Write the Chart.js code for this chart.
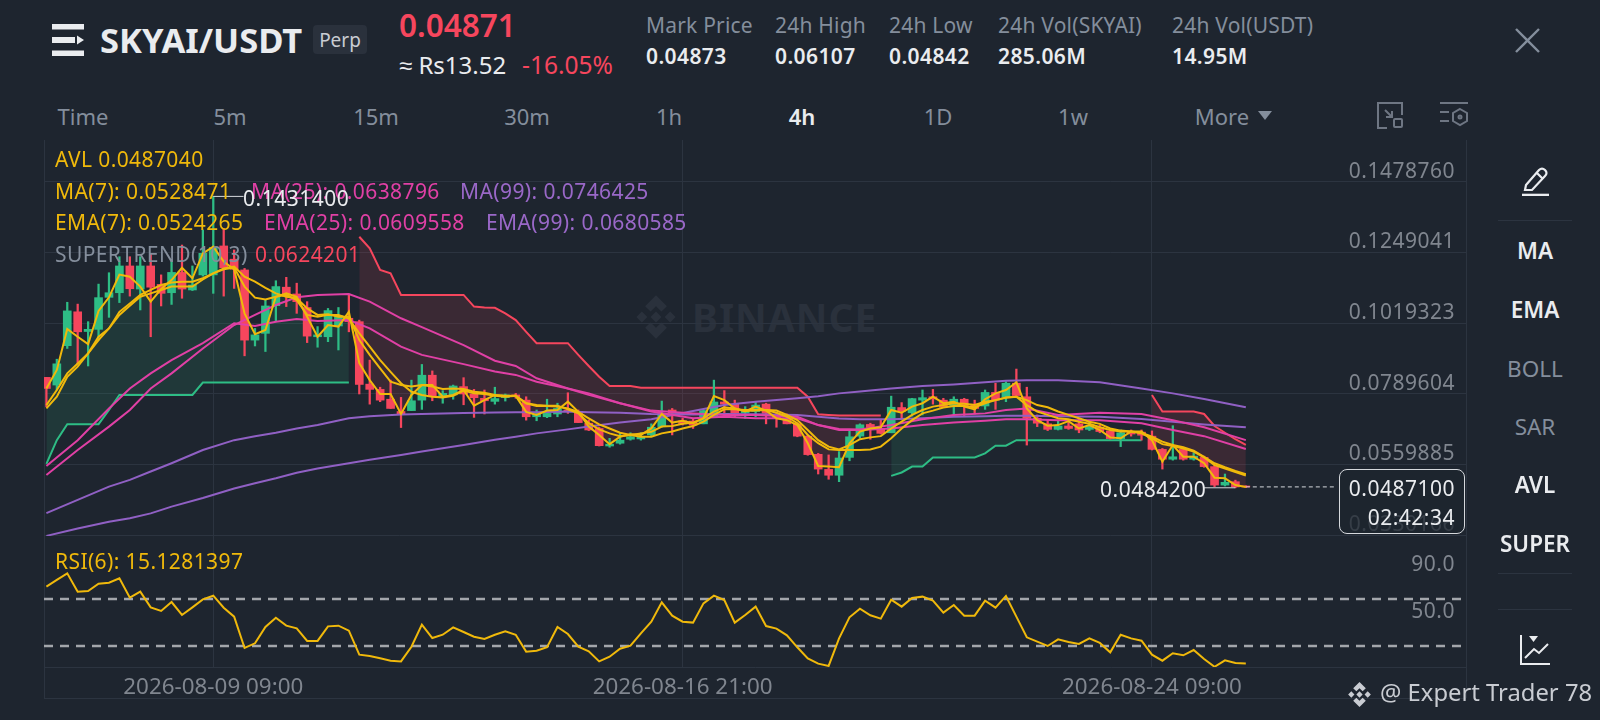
<!DOCTYPE html>
<html lang="en">
<head>
<meta charset="UTF-8">
<title>SKYAI/USDT Perp 4h</title>
<script src="https://cdn.jsdelivr.net/npm/chart.js"></script>
<style>
    html, body { margin: 0; padding: 0; width: 1600px; height: 720px; overflow: hidden; background: #1e252f; font-family: "Noto Sans", sans-serif; }
    .l, .c, .r { position: absolute; white-space: nowrap; line-height: 1; z-index: 5; }
    .l { transform: translateY(-50%); }
    .c { transform: translate(-50%, -50%); }
    .r { transform: translate(-100%, -50%); }
    .grey { color: #848e9c; }
    .white { color: #eaecef; }
    .red { color: #f6465d; }
    .stat { font-size: 21px; letter-spacing: .2px; }
    .val { font-size: 21px; font-weight: 600; color: #eaecef; letter-spacing: .4px; }
    .tab { font-size: 22px; color: #848e9c; }
    .side { font-size: 22.500px; font-weight: 600; color: #eaecef; }
    .off { font-weight: 400; color: #848e9c; }
    .leg { font-size: 21px; letter-spacing: .4px; }
    .yel { color: #f0b90b; }
    .pink { color: #e040a5; }
    .pur { color: #9a68c8; }
    .tag { font-size: 21px; color: #eaecef; letter-spacing: .5px; }
    .line { position: absolute; background: #2c3440; }
    canvas { position: absolute; z-index: 2; }
    #wm { position: absolute; left: 692px; top: 316px; transform: translateY(-50%); font-size: 39px; font-weight: 700; color: #2a313c; letter-spacing: 1px; line-height: 1; z-index: 1; }
    #box { position: absolute; left: 1339px; top: 469px; width: 124px; height: 63px; border: 1px solid #d5d8dc; border-radius: 8px; background: rgba(30,37,47,.75); z-index: 4; }
</style>
</head>
<body>
    <svg style="position:absolute;left:52px;top:24px" width="32" height="32" viewBox="0 0 32 32">
        <path fill="#eaecef" d="M0 0h32v5.500H0zM0 26.500h32V32H0zM0 13h23v6H0zM25 11.500l7 4.500-7 4.500z"/>
    </svg>
    <div class="l white" style="left:100px;top:40px;font-size:34.500px;font-weight:700">SKYAI/USDT</div>
    <div style="position:absolute;left:313px;top:25px;width:54px;height:29px;background:#2a313c;border-radius:4px"></div>
    <div class="c" style="left:340px;top:40px;font-size:19px;color:#c9ccd2">Perp</div>
    <div class="l red" style="left:399px;top:25px;font-size:31.500px;font-weight:600">0.04871</div>
    <div class="l white" style="left:399px;top:65px;font-size:24px">≈ Rs13.52</div>
    <div class="l red" style="left:522px;top:65px;font-size:24.500px">-16.05%</div>

    <div class="l grey stat" style="left:646px;top:25px">Mark Price</div>
    <div class="l val" style="left:646px;top:56px">0.04873</div>
    <div class="l grey stat" style="left:775px;top:25px">24h High</div>
    <div class="l val" style="left:775px;top:56px">0.06107</div>
    <div class="l grey stat" style="left:889px;top:25px">24h Low</div>
    <div class="l val" style="left:889px;top:56px">0.04842</div>
    <div class="l grey stat" style="left:998px;top:25px">24h Vol(SKYAI)</div>
    <div class="l val" style="left:998px;top:56px">285.06M</div>
    <div class="l grey stat" style="left:1172px;top:25px">24h Vol(USDT)</div>
    <div class="l val" style="left:1172px;top:56px">14.95M</div>

    <svg style="position:absolute;left:1514px;top:27px" width="27" height="27" viewBox="0 0 27 27">
        <path stroke="#848e9c" stroke-width="2.400" d="M2 2l23 23M25 2L2 25"/>
    </svg>

    <div class="c tab" style="left:83px;top:116px">Time</div>
    <div class="c tab" style="left:230px;top:116px">5m</div>
    <div class="c tab" style="left:376px;top:116px">15m</div>
    <div class="c tab" style="left:527px;top:116px">30m</div>
    <div class="c tab" style="left:669px;top:116px">1h</div>
    <div class="c tab" style="left:802px;top:116px;color:#eaecef;font-weight:600">4h</div>
    <div class="c tab" style="left:938px;top:116px">1D</div>
    <div class="c tab" style="left:1073px;top:116px">1w</div>
    <div class="c tab" style="left:1222px;top:116px">More</div>
    <svg style="position:absolute;left:1258px;top:111px" width="14" height="9" viewBox="0 0 14 9"><path fill="#848e9c" d="M0 0h14L7 9z"/></svg>

    <svg style="position:absolute;left:1376px;top:101px" width="28" height="28" viewBox="0 0 28 28" fill="none" stroke="#6e7683" stroke-width="2">
        <path d="M11 27H2V2h24v12M9 9l7 7M16 10v6h-6"/><rect x="18" y="18" width="8" height="8" rx="1"/>
    </svg>
    <svg style="position:absolute;left:1440px;top:102px" width="28" height="26" viewBox="0 0 28 26" fill="none" stroke="#6e7683" stroke-width="2">
        <path d="M0 1h28M0 10h9M0 19h9"/><path d="M20 7l7 4v8l-7 4-7-4v-8z"/><circle cx="20" cy="15" r="1.500"/>
    </svg>

    <!-- panel frame -->
    <div class="line" style="left:44px;top:140px;width:1px;height:558px"></div>
    <div class="line" style="left:1466px;top:140px;width:1px;height:558px"></div>
    <div class="line" style="left:44px;top:698px;width:1422px;height:1px"></div>

    <svg style="position:absolute;left:631px;top:292px;z-index:1" width="50" height="50" viewBox="0 0 46 46">
        <path fill="#2a313c" d="M23 3l10 10-5 5-5-5-5 5-5-5zM5 23l5-5 5 5-5 5zM31 23l5-5 5 5-5 5zM18 23l5-5 5 5-5 5zM13 33l5-5 5 5 5-5 5 5-10 10z"/>
    </svg>
    <div id="wm">BINANCE</div>

    <canvas id="mainChart" width="1422" height="396" style="left:44px;top:140px"></canvas>
    <canvas id="rsiChart" width="1422" height="162" style="left:44px;top:536px"></canvas>

    <div class="l leg yel" style="left:55px;top:159px">AVL 0.0487040</div>
    <div class="l leg yel" style="left:55px;top:191px">MA(7): 0.0528471</div>
    <div class="l leg pink" style="left:251px;top:191px">MA(25): 0.0638796</div>
    <div class="l leg pur" style="left:460px;top:191px">MA(99): 0.0746425</div>
    <div class="l leg yel" style="left:55px;top:222px">EMA(7): 0.0524265</div>
    <div class="l leg pink" style="left:264px;top:222px">EMA(25): 0.0609558</div>
    <div class="l leg pur" style="left:486px;top:222px">EMA(99): 0.0680585</div>
    <div class="l leg grey" style="left:55px;top:254px">SUPERTREND(10,3)</div>
    <div class="l leg red" style="left:255px;top:254px">0.0624201</div>
    <div class="l leg yel" style="left:55px;top:561px">RSI(6): 15.1281397</div>

    <div class="l tag" style="left:243px;top:198px">0.1431400</div>
    <div class="l tag" style="left:1100px;top:489px">0.0484200</div>

    <div id="box"></div>
    <div class="r tag" style="left:1455px;top:488px">0.0487100</div>
    <div class="r tag" style="left:1455px;top:517px">02:42:34</div>

    <!-- right side menu -->
    <svg style="position:absolute;left:1520px;top:164px" width="30" height="32" viewBox="0 0 30 32" fill="none" stroke="#eaecef" stroke-width="2.200">
        <path d="M6 21L19 6c2-2 4-2 6 0s2 4 0 6L12 26l-7 0z"/><path d="M17 9l6 6"/><path d="M2 31h27" stroke-width="2.600"/>
    </svg>
    <div class="line" style="left:1498px;top:220px;width:74px;height:1px"></div>
    <div class="c side" style="left:1535px;top:251px">MA</div>
    <div class="c side" style="left:1535px;top:310px">EMA</div>
    <div class="c side off" style="left:1535px;top:369px">BOLL</div>
    <div class="c side off" style="left:1535px;top:427px">SAR</div>
    <div class="c side" style="left:1535px;top:485px">AVL</div>
    <div class="c side" style="left:1535px;top:544px">SUPER</div>
    <div class="line" style="left:1498px;top:573px;width:74px;height:1px"></div>
    <div class="line" style="left:1498px;top:609px;width:74px;height:1px"></div>
    <svg style="position:absolute;left:1519px;top:634px" width="32" height="32" viewBox="0 0 32 32" fill="none" stroke="#eaecef" stroke-width="2">
        <path d="M2 1v29h29"/><path d="M6 24l9-9 5 4 9-9"/><path fill="#eaecef" stroke="none" d="M10 2h9l-4.500 6z"/>
    </svg>

    <svg style="position:absolute;left:1345px;top:680px;z-index:6" width="29" height="29" viewBox="0 0 46 46">
        <path fill="#c9ccd2" d="M23 3l10 10-5 5-5-5-5 5-5-5zM5 23l5-5 5 5-5 5zM31 23l5-5 5 5-5 5zM18 23l5-5 5 5-5 5zM13 33l5-5 5 5 5-5 5 5-10 10z"/>
    </svg>
    <div class="l" style="left:1380px;top:693px;font-size:23.800px;color:#c9ccd2;z-index:6">@ Expert Trader 78</div>

    <script>
        // candles, one per 4h bar
        const open = [
            .0843,.0818,.0946,.1056,.0992,.0999,.1103,.1118,.1205,.1130,
            .1205,.1145,.1118,.1184,.1127,.1176,.1176,.1270,.1227,.1192,
            .0964,.0986,.1076,.1136,.1114,.1070,.0975,.0975,.1010,.1035,
            .1024,.0821,.0804,.0772,.0732,.0735,.0769,.0850,.0780,.0786,
            .0813,.0789,.0775,.0765,.0777,.0786,.0769,.0715,.0715,.0724,
            .0737,.0732,.0694,.0677,.0620,.0629,.0642,.0643,.0656,.0683,
            .0737,.0702,.0701,.0692,.0715,.0763,.0756,.0728,.0732,.0756,
            .0721,.0710,.0692,.0652,.0593,.0544,.0525,.0583,.0652,.0690,
            .0677,.0663,.0745,.0728,.0769,.0780,.0769,.0748,.0772,.0756,
            .0750,.0794,.0780,.0824,.0780,.0710,.0692,.0674,.0685,.0692,
            .0674,.0681,.0669,.0644,.0667,.0665,.0652,.0609,.0577,.0609,
            .0577,.0583,.0553,.0493,.0504,.0490];
        const close = [
            .0807,.0887,.1059,.0991,.0999,.1102,.1118,.1205,.1131,.1205,
            .1136,.1116,.1184,.1130,.1143,.1246,.1265,.1199,.1194,.0964,
            .0981,.1075,.1138,.1107,.1089,.0977,.0981,.1060,.1043,.1024,
            .0820,.0804,.0769,.0742,.0724,.0767,.0850,.0780,.0791,.0815,
            .0789,.0777,.0767,.0774,.0786,.0780,.0715,.0724,.0726,.0742,
            .0733,.0696,.0672,.0621,.0626,.0639,.0650,.0650,.0681,.0726,
            .0726,.0692,.0688,.0735,.0763,.0756,.0726,.0739,.0753,.0726,
            .0710,.0692,.0652,.0592,.0545,.0525,.0581,.0650,.0689,.0680,
            .0661,.0746,.0733,.0774,.0777,.0773,.0746,.0772,.0748,.0742,
            .0794,.0769,.0824,.0784,.0710,.0694,.0674,.0685,.0677,.0672,
            .0685,.0667,.0644,.0663,.0659,.0655,.0609,.0577,.0585,.0577,
            .0587,.0553,.0493,.0502,.0487,.04871];
        const high = [
            .0843,.0902,.1087,.1081,.1024,.1146,.1183,.1235,.1235,.1235,
            .1246,.1176,.1224,.1273,.1205,.1322,.1431,.1327,.1257,.1197,
            .1002,.1094,.1157,.1168,.1149,.1089,.1008,.1067,.1070,.1111,
            .1029,.0899,.0811,.0834,.0778,.0834,.0885,.0864,.0800,.0818,
            .0842,.0804,.0802,.0811,.0789,.0791,.0780,.0737,.0772,.0759,
            .0793,.0737,.0704,.0681,.0645,.0661,.0663,.0663,.0692,.0766,
            .0742,.0710,.0710,.0737,.0834,.0800,.0769,.0748,.0762,.0759,
            .0726,.0724,.0694,.0656,.0596,.0591,.0602,.0672,.0692,.0694,
            .0707,.0782,.0761,.0775,.0802,.0804,.0775,.0780,.0775,.0769,
            .0802,.0824,.0829,.0870,.0811,.0721,.0704,.0704,.0704,.0710,
            .0702,.0688,.0672,.0672,.0672,.0672,.0669,.0612,.0686,.0612,
            .0598,.0587,.0558,.0529,.0509,.0491];
        const low = [
            .0748,.0802,.0937,.0887,.0880,.0964,.1038,.1086,.1107,.1062,
            .0975,.1075,.1080,.1100,.1125,.1172,.1116,.1107,.1132,.0913,
            .0945,.0927,.1024,.1073,.1051,.0956,.0941,.0959,.0932,.0991,
            .0789,.0756,.0764,.0742,.0680,.0735,.0739,.0767,.0759,.0772,
            .0754,.0713,.0724,.0756,.0766,.0775,.0704,.0702,.0712,.0715,
            .0726,.0696,.0670,.0620,.0616,.0626,.0639,.0639,.0650,.0681,
            .0656,.0688,.0677,.0692,.0715,.0715,.0715,.0710,.0715,.0692,
            .0681,.0692,.0650,.0590,.0529,.0512,.0504,.0572,.0645,.0642,
            .0659,.0663,.0707,.0717,.0721,.0756,.0746,.0721,.0719,.0724,
            .0739,.0739,.0764,.0784,.0623,.0683,.0670,.0672,.0674,.0663,
            .0670,.0663,.0642,.0618,.0652,.0639,.0607,.0545,.0574,.0574,
            .0574,.0551,.0488,.0490,.04842,.0485];

        const avl = [
            .0807,.0867,.1000,.0975,.0951,.1059,.1103,.1177,.1170,.1138,
            .1089,.1130,.1159,.1199,.1165,.1246,.1268,.1219,.1194,.1051,
            .0983,.0997,.1105,.1116,.1105,.1040,.0975,.1013,.1008,.1056,
            .0889,.0834,.0789,.0789,.0724,.0786,.0818,.0818,.0780,.0786,
            .0802,.0751,.0769,.0786,.0782,.0783,.0731,.0721,.0735,.0737,
            .0764,.0731,.0683,.0656,.0626,.0650,.0658,.0656,.0677,.0724,
            .0696,.0702,.0694,.0710,.0782,.0769,.0742,.0732,.0748,.0735,
            .0710,.0704,.0688,.0629,.0555,.0553,.0551,.0629,.0667,.0677,
            .0681,.0737,.0728,.0748,.0759,.0780,.0759,.0764,.0748,.0739,
            .0772,.0791,.0802,.0827,.0742,.0704,.0686,.0688,.0701,.0677,
            .0688,.0672,.0648,.0645,.0667,.0667,.0639,.0569,.0623,.0585,
            .0585,.0564,.0517,.0515,.0493,.0487];
        const ma7 = [
            .0753,.0802,.0856,.0888,.0921,.0975,.1002,.1056,.1083,.1111,
            .1127,.1143,.1151,.1154,.1154,.1165,.1181,.1197,.1203,.1170,
            .1154,.1134,.1116,.1105,.1100,.1067,.1046,.1048,.1040,.1040,
            .0964,.0916,.0872,.0829,.0818,.0813,.0818,.0813,.0805,.0807,
            .0805,.0796,.0793,.0786,.0783,.0783,.0759,.0750,.0750,.0748,
            .0742,.0731,.0710,.0690,.0677,.0663,.0656,.0661,.0666,.0683,
            .0685,.0692,.0696,.0710,.0732,.0746,.0742,.0734,.0735,.0737,
            .0735,.0721,.0704,.0672,.0639,.0618,.0609,.0623,.0642,.0648,
            .0652,.0677,.0699,.0721,.0737,.0748,.0753,.0759,.0757,.0753,
            .0764,.0769,.0778,.0780,.0769,.0753,.0746,.0732,.0721,.0710,
            .0699,.0692,.0677,.0670,.0667,.0663,.0650,.0634,.0623,.0616,
            .0605,.0585,.0564,.0551,.0539,.0528];
        const ema7 = [
            .0742,.0780,.0845,.0878,.0921,.0964,.1002,.1046,.1076,.1105,
            .1116,.1127,.1138,.1138,.1138,.1161,.1181,.1194,.1200,.1138,
            .1102,.1096,.1105,.1111,.1094,.1046,.1040,.1046,.1046,.1034,
            .0986,.0943,.0899,.0861,.0824,.0796,.0786,.0780,.0778,.0783,
            .0800,.0791,.0789,.0783,.0780,.0783,.0759,.0753,.0751,.0751,
            .0739,.0726,.0694,.0674,.0661,.0652,.0656,.0650,.0650,.0661,
            .0667,.0677,.0685,.0699,.0721,.0739,.0739,.0737,.0737,.0737,
            .0728,.0715,.0694,.0656,.0629,.0609,.0607,.0607,.0607,.0609,
            .0618,.0645,.0677,.0704,.0726,.0735,.0745,.0750,.0750,.0746,
            .0759,.0769,.0777,.0780,.0753,.0732,.0721,.0710,.0707,.0699,
            .0692,.0681,.0672,.0667,.0667,.0661,.0645,.0626,.0620,.0612,
            .0602,.0583,.0558,.0547,.0535,.0524];

        // slower averages, read at these bars only
        const slowIdx = [0,3,6,8,10,12,15,18,20,22,24,26,29,31,34,36,40,43,45,47,50,52,55,58,62,65,68,72,74,76,78,81,84,87,90,92,94,97,101,105,108,111,115];
        const ma25 = [.0526,.0607,.0683,.0737,.0807,.0856,.0937,.1013,.1046,.1078,.1103,.1111,.1114,.1089,.1035,.1006,.0948,.0897,.0880,.0840,.0807,.0791,.0759,.0735,.0726,.0721,.0721,.0715,.0688,.0675,.0674,.0688,.0707,.0721,.0726,.0737,.0742,.0721,.0728,.0724,.0704,.0681,.0639];
        const ema25 = [.0555,.0639,.0742,.0807,.0856,.0899,.0954,.1019,.1010,.1024,.1033,.1026,.1029,.1002,.0943,.0916,.0886,.0862,.0851,.0829,.0807,.0786,.0759,.0732,.0710,.0715,.0710,.0710,.0688,.0672,.0672,.0677,.0688,.0696,.0702,.0707,.0707,.0704,.0704,.0694,.0672,.0652,.0610];
        const ma99 = [.0328,.0352,.0374,.0385,.0401,.0423,.0451,.0482,.0499,.0515,.0533,.0547,.0564,.0575,.0591,.0602,.0623,.0640,.0650,.0661,.0674,.0683,.0696,.0707,.0734,.0753,.0764,.0775,.0782,.0791,.0797,.0807,.0815,.0820,.0827,.0832,.0834,.0834,.0827,.0807,.0791,.0773,.0746];
        const ema99 = [.0402,.0445,.0488,.0510,.0537,.0564,.0607,.0639,.0652,.0663,.0677,.0688,.0710,.0717,.0722,.0724,.0727,.0729,.0730,.0730,.0732,.0730,.0728,.0724,.0722,.0724,.0723,.0721,.0715,.0709,.0707,.0707,.0710,.0715,.0717,.0718,.0718,.0717,.0715,.0708,.0699,.0690,.0681];

        const superUp = [
            .0562,.0639,.0691,.0691,.0691,.0691,.0737,.0786,.0786,.0786,
            .0786,.0786,.0786,.0786,.0786,.0826,.0826,.0826,.0826,.0826,
            .0826,.0826,.0826,.0826,.0826,.0826,.0826,.0826,.0826,.0826,
            null,null,null,null,null,null,null,null,null,null,
            null,null,null,null,null,null,null,null,null,null,
            null,null,null,null,null,null,null,null,null,null,
            null,null,null,null,null,null,null,null,null,null,
            null,null,null,null,null,null,null,null,null,null,
            null,.0523,.0534,.0553,.0553,.0583,.0583,.0583,.0583,.0583,
            .0596,.0621,.0621,.0639,.0639,.0639,.0639,.0639,.0639,.0639,
            .0639,.0639,.0639,.0639,.0639,.0639,null,null,null,null,
            null,null,null,null,null,null];
        const superDown = [
            null,null,null,null,null,null,null,null,null,null,
            null,null,null,null,null,null,null,null,null,null,
            null,null,null,null,null,null,null,null,null,null,
            .1300,.1262,.1192,.1181,.1111,.1111,.1111,.1111,.1111,.1111,
            .1111,.1073,.1070,.1069,.1051,.1029,.0991,.0954,.0954,.0954,
            .0954,.0916,.0880,.0845,.0815,.0815,.0815,.0809,.0809,.0809,
            .0809,.0809,.0809,.0809,.0809,.0809,.0809,.0809,.0809,.0809,
            .0809,.0809,.0809,.0780,.0723,.0721,.0719,.0719,.0719,.0719,
            .0719,null,null,null,null,null,null,null,null,null,
            null,null,null,null,null,null,null,null,null,null,
            null,null,null,null,null,null,.0786,.0732,.0732,.0732,
            .0732,.0724,.0685,.0663,.0642,.0624];

        const rsi = [
            80.5,86.2,91.8,76.2,76.8,83.0,83.9,87.6,71.1,76.2,
            62.9,59.8,67.4,56.4,62.9,69.7,72.8,62.6,55.0,28.3,
            32.3,46.2,54.1,47.3,45.0,34.3,34.3,46.7,47.3,43.0,
            22.6,21.5,19.5,17.5,16.9,29.4,48.2,36.8,39.6,45.9,
            41.9,37.9,36.0,39.6,42.5,39.6,25.2,26.0,28.9,46.2,
            40.2,29.4,25.5,16.9,20.9,27.7,30.3,40.8,50.7,67.2,
            55.8,50.7,49.9,66.3,72.8,69.1,49.9,56.4,63.5,47.0,
            44.8,39.1,28.9,19.5,15.0,13.0,36.5,54.4,61.8,56.1,
            53.3,69.4,63.5,70.9,72.0,68.6,58.4,64.9,55.8,55.8,
            68.6,62.6,72.6,55.0,37.4,33.7,30.0,35.7,33.4,31.7,
            36.5,32.6,24.6,39.6,36.5,34.5,22.6,17.5,23.8,22.1,
            26.6,18.9,12.3,17.8,15.5,15.13];

        const xTickIdx = [16, 61, 106];
        const xTickLabels = ['2026-08-09 09:00', '2026-08-16 21:00', '2026-08-24 09:00'];
        const priceTicks = [0.1478760, 0.1249041, 0.1019323, 0.0789604, 0.0559885, 0.0330166];
        const priceTickLabels = ['0.1478760', '0.1249041', '0.1019323', '0.0789604', '0.0559885', '0.0330166'];
        const rsiTicks = [90, 50];
        const rsiTickLabels = ['90.0', '50.0'];
        const rsiBands = [70, 30];

        const GREEN = '#2ebd85', RED = '#f6465d', YELLOW = '#f0b90b', PINK = '#e040a5', PURPLE = '#9060c4', GRID = '#2c3440';
        const xMin = -0.23, xMax = 136.11;
        const lastX = 123.7;

        const pts = (arr) => arr.map((v, i) => ({ x: i, y: v }));
        const knots = (arr) => arr.map((v, i) => ({ x: slowIdx[i], y: v }));
        const candleColor = open.map((o, i) => close[i] >= o ? GREEN : RED);

        function lineSet(data, color, order, extra) {
            return Object.assign({ type: 'line', data: data, borderColor: color, borderWidth: 2, pointRadius: 0, tension: 0, fill: false, order: order }, extra);
        }

        // price labels sit a little above their grid line
        const tickText = {
            id: 'tickText',
            afterDatasetsDraw(chart, args, opts) {
                const ctx = chart.ctx, scale = chart.scales.y;
                ctx.save();
                ctx.font = '21px "Noto Sans"';
                ctx.letterSpacing = '.5px';
                ctx.fillStyle = '#80868f';
                ctx.textAlign = 'right';
                ctx.textBaseline = 'middle';
                opts.values.forEach((v, i) => {
                    ctx.fillText(opts.labels[i], chart.chartArea.right - 11, scale.getPixelForValue(v) - 10);
                });
                ctx.restore();
            }
        };

        function xAxis(showLabels) {
            return {
                type: 'linear', min: xMin, max: xMax, offset: false,
                afterBuildTicks: (axis) => { axis.ticks = xTickIdx.map(v => ({ value: v })); },
                grid: { color: GRID, drawTicks: false, offset: false },
                border: { display: showLabels, color: GRID },
                afterFit: (axis) => { axis.height = showLabels ? 31 : 0; },
                ticks: {
                    display: showLabels, autoSkip: false, maxRotation: 0, padding: 7, color: '#80868f',
                    font: { family: '"Noto Sans"', size: 22.4 },
                    callback: (v) => xTickLabels[xTickIdx.indexOf(v)]
                }
            };
        }

        new Chart(document.getElementById('mainChart').getContext('2d'), {
            type: 'bar',
            data: {
                datasets: [
                    { type: 'bar', data: pts(low.map((l, i) => [l, high[i]])), backgroundColor: candleColor, barThickness: 1.6, grouped: false, order: 60 },
                    { type: 'bar', data: pts(open.map((o, i) => [o, close[i]])), backgroundColor: candleColor, barThickness: 8, grouped: false, order: 50 },
                    lineSet(pts(avl), YELLOW, 5),
                    lineSet(pts(superUp), GREEN, 70, { fill: { target: 2 }, backgroundColor: 'rgba(46,189,133,.13)' }),
                    lineSet(pts(superDown), RED, 71, { fill: { target: 2 }, backgroundColor: 'rgba(246,70,93,.13)' }),
                    lineSet(knots(ema99), PURPLE, 20),
                    lineSet(knots(ma99), PURPLE, 21),
                    lineSet(knots(ema25), PINK, 15),
                    lineSet(knots(ma25), PINK, 16),
                    lineSet(pts(ema7), YELLOW, 6),
                    lineSet(pts(ma7), YELLOW, 7),
                    lineSet([{ x: 115, y: close[115] }, { x: lastX, y: close[115] }], '#d5d8dc', 1, { borderWidth: 1, borderDash: [4, 3] }),
                    lineSet([{ x: 16, y: high[16] }, { x: 18.9, y: high[16] }], '#d5d8dc', 1, { borderWidth: 1 }),
                    lineSet([{ x: 111, y: low[114] }, { x: 114, y: low[114] }], '#d5d8dc', 1, { borderWidth: 1 })
                ]
            },
            options: {
                responsive: false, animation: false, events: [],
                layout: { padding: 0 },
                plugins: { legend: { display: false }, tooltip: { enabled: false }, tickText: { values: priceTicks, labels: priceTickLabels } },
                scales: {
                    x: xAxis(false),
                    y: {
                        position: 'right', min: 0.032757, max: 0.161425,
                        afterBuildTicks: (axis) => { axis.ticks = priceTicks.map(v => ({ value: v })); },
                        afterFit: (axis) => { axis.width = 0; },
                        grid: { color: GRID, drawTicks: false }, border: { display: false },
                        ticks: { display: false }
                    }
                }
            },
            plugins: [tickText]
        });

        new Chart(document.getElementById('rsiChart').getContext('2d'), {
            type: 'line',
            data: {
                datasets: [
                    lineSet(pts(rsi), YELLOW, 1),
                    lineSet([{ x: xMin, y: rsiBands[0] }, { x: lastX + 12, y: rsiBands[0] }], '#a3a6ab', 2, { borderWidth: 2.4, borderDash: [9, 7] }),
                    lineSet([{ x: xMin, y: rsiBands[1] }, { x: lastX + 12, y: rsiBands[1] }], '#a3a6ab', 2, { borderWidth: 2.4, borderDash: [9, 7] })
                ]
            },
            options: {
                responsive: false, animation: false, events: [],
                layout: { padding: 0 },
                plugins: { legend: { display: false }, tooltip: { enabled: false }, tickText: { values: rsiTicks, labels: rsiTickLabels } },
                scales: {
                    x: xAxis(true),
                    y: {
                        position: 'right', min: 12.13, max: 123.6,
                        afterBuildTicks: (axis) => { axis.ticks = rsiTicks.map(v => ({ value: v })); },
                        afterFit: (axis) => { axis.width = 0; },
                        grid: { display: false }, border: { display: false },
                        ticks: { display: false }
                    }
                }
            },
            plugins: [tickText]
        });
    </script>
</body>
</html>
